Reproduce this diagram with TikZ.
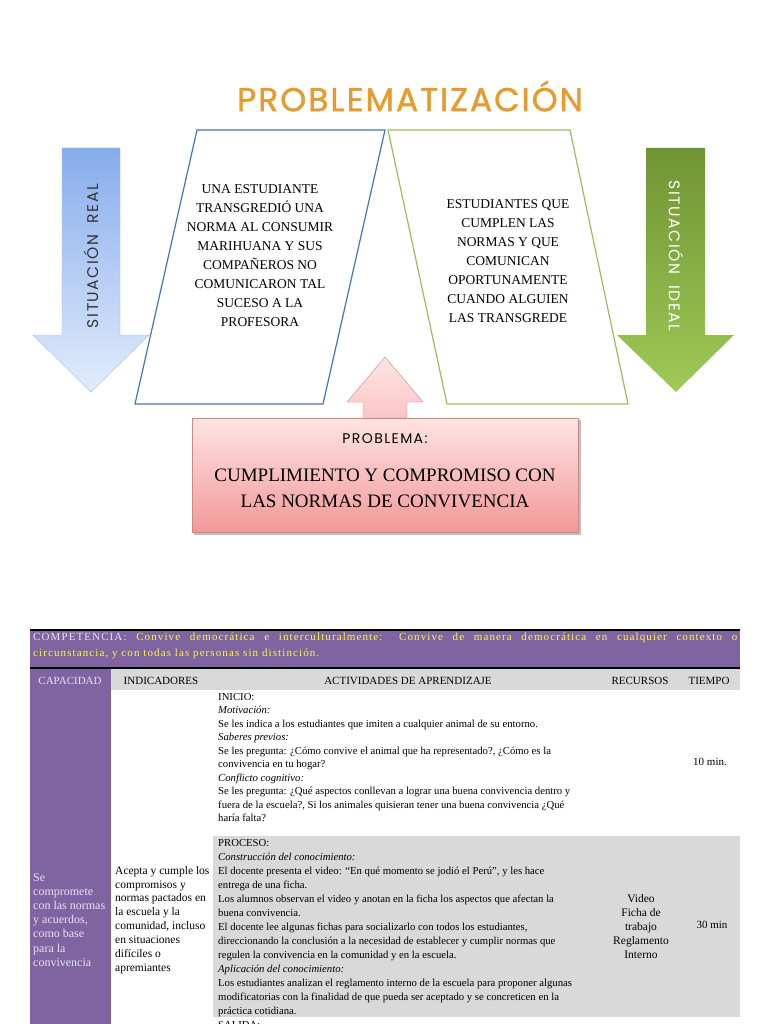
\documentclass[tikz,border=0pt]{standalone}
\usepackage{fontspec}
\setmainfont{Liberation Serif}
\newfontfamily\handfont[LetterSpace=10]{Poppins}
\newfontfamily\titlefont[LetterSpace=6,FakeBold=1.2]{Poppins}
\newfontfamily\anchafont[LetterSpace=10]{Liberation Serif}
\usetikzlibrary{positioning}
\definecolor{lila}{RGB}{128,100,162}
\definecolor{gris}{RGB}{217,217,217}
\definecolor{amarillo}{RGB}{250,245,80}
\definecolor{lilablanco}{RGB}{232,225,242}
\definecolor{azularriba}{RGB}{135,172,236}
\definecolor{azulabajo}{RGB}{226,236,252}
\definecolor{azulborde}{RGB}{165,190,228}
\definecolor{azullinea}{RGB}{70,115,185}
\definecolor{verdearriba}{RGB}{112,148,52}
\definecolor{verdeabajo}{RGB}{158,202,86}
\definecolor{verdelinea}{RGB}{155,190,90}
\definecolor{rosaarriba}{RGB}{255,228,228}
\definecolor{rosaabajo}{RGB}{242,152,152}
\definecolor{rosaborde}{RGB}{205,135,135}
\definecolor{naranja}{RGB}{232,155,45}
\tikzset{
	caja/.style={align=center, inner sep=0pt, font=\fontsize{13.5}{19}\selectfont},
	tabla/.style={align=left, inner sep=0pt, anchor=north west, font=\fontsize{10.7}{14}\selectfont},
	cabeza/.style={inner sep=0pt, anchor=base, font=\fontsize{11}{12}\selectfont}
}
\begin{document}
\begin{tikzpicture}[x=1pt,y=-1pt]
		\clip (0,0) rectangle (768,1024);
		\fill [white] (0,0) rectangle (768,1024);
		\def\punta{392}
		\def\base{335}
		\def\tope{148}
	% title
		\node [font=\titlefont\fontsize{33}{33}\selectfont, text=naranja] (titulo) at (410,96) {PROBLEMATIZACIÓN};
	% left arrow
		\shade [top color=azularriba, bottom color=azulabajo, draw=azulborde] (62,\tope) -- (120,\tope) -- (120,\base) -- (149,\base) -- (91,\punta) -- (33,\base) -- (62,\base) -- cycle;
		\node [rotate=90, text=black!80, font=\handfont\fontsize{15.5}{15.5}\selectfont] (real) at (91,256) {SITUACIÓN\ \ REAL};
	% right arrow
		\shade [top color=verdearriba, bottom color=verdeabajo] (646,\tope) -- (705,\tope) -- (705,\base) -- (734,\base) -- (676,\punta) -- (617,\base) -- (646,\base) -- cycle;
		\node [rotate=-90, text=white, font=\handfont\fontsize{15.5}{15.5}\selectfont] (ideal) at (676,256) {SITUACIÓN\ \ IDEAL};
	% boxes
		\draw [azullinea, line width=1.2pt] (197,130) -- (385,130) -- (323,404) -- (135,404) -- cycle;
		\node [caja] (realtexto) at (260,256) {UNA ESTUDIANTE\\TRANSGREDIÓ UNA\\NORMA AL CONSUMIR\\MARIHUANA Y SUS\\COMPAÑEROS NO\\COMUNICARON TAL\\SUCESO A LA\\PROFESORA};
		\draw [verdelinea, line width=1.2pt] (388,130) -- (570,130) -- (628,404) -- (447,404) -- cycle;
		\node [caja] (idealtexto) at (508,261) {ESTUDIANTES QUE\\CUMPLEN LAS\\NORMAS Y QUE\\COMUNICAN\\OPORTUNAMENTE\\CUANDO ALGUIEN\\LAS TRANSGREDE};
	% problem
		\shade [top color=rosaarriba, bottom color=rosaarriba!60!rosaabajo, draw=rosaborde] (363,418) -- (363,402) -- (347,402) -- (385,357) -- (423,402) -- (407,402) -- (407,418) -- cycle;
		\fill [black!25] (194,420) rectangle (581,535);
		\shade [top color=rosaarriba, bottom color=rosaabajo, draw=rosaborde] (192,418) rectangle (578,532);
		\node [font=\handfont\fontsize{14}{14}\selectfont, anchor=base] (problema) at (385,443) {PROBLEMA:};
		\node [align=center, anchor=base, inner sep=0pt, font=\fontsize{19}{26}\selectfont] (cumplimiento) at (385,507) {CUMPLIMIENTO Y COMPROMISO CON\\LAS NORMAS DE CONVIVENCIA};
	% table
		\fill [lila] (30,630) rectangle (740,667);
		\draw [line width=1.5pt] (30,630) -- (740,630);
		\draw [line width=1.5pt] (30,668) -- (740,668);
		\fill [lila] (30,669) rectangle (111,1024);
		\fill [gris] (111,669) rectangle (740,690);
		\fill [gris] (213,836) rectangle (740,1017);
		\node [tabla, text width=704, align=justify, font=\anchafont\fontsize{11}{16}\selectfont] (competencia) at (33,633) {{\color{lilablanco}COMPETENCIA:} {\color{amarillo}Convive democrática e interculturalmente: Convive de manera democrática en cualquier contexto o\linebreak circunstancia, y con todas las personas sin distinción.}};
		\node [cabeza, text=lilablanco] (capacidad) at (70,684) {CAPACIDAD};
		\node [cabeza] (indicadores) at (161,684) {INDICADORES};
		\node [cabeza] (actividades) at (408,684) {ACTIVIDADES DE APRENDIZAJE};
		\node [cabeza] (recursos) at (640,684) {RECURSOS};
		\node [cabeza] (tiempo) at (709,684) {TIEMPO};
	% rows
		\node [tabla, font=\fontsize{10.7}{13.5}\selectfont] (inicio) at (218,693) {INICIO:\\\textit{Motivación:}\\Se les indica a los estudiantes que imiten a cualquier animal de su entorno.\\\textit{Saberes previos:}\\Se les pregunta: ¿Cómo convive el animal que ha representado?, ¿Cómo es la\\convivencia en tu hogar?\\\textit{Conflicto cognitivo:}\\Se les pregunta: ¿Qué aspectos conllevan a lograr una buena convivencia dentro y\\fuera de la escuela?, Si los animales quisieran tener una buena convivencia ¿Qué\\haría falta?};
		\node [cabeza, font=\fontsize{11}{12}\selectfont] (diezmin) at (710,765) {10 min.};
		\node [tabla] (proceso) at (218,839) {PROCESO:\\\textit{Construcción del conocimiento:}\\El docente presenta el video: “En qué momento se jodió el Perú”, y les hace\\entrega de una ficha.\\Los alumnos observan el video y anotan en la ficha los aspectos que afectan la\\buena convivencia.\\El docente lee algunas fichas para socializarlo con todos los estudiantes,\\direccionando la conclusión a la necesidad de establecer y cumplir normas que\\regulen la convivencia en la comunidad y en la escuela.\\\textit{Aplicación del conocimiento:}\\Los estudiantes analizan el reglamento interno de la escuela para proponer algunas\\modificatorias con la finalidad de que pueda ser aceptado y se concreticen en la\\práctica cotidiana.\\SALIDA:};
		\node [tabla, anchor=north, align=center, font=\fontsize{11.5}{14}\selectfont] (materiales) at (641,894) {Video\\Ficha de\\trabajo\\Reglamento\\Interno};
		\node [cabeza, font=\fontsize{11}{12}\selectfont] (treintamin) at (712,928) {30 min};
		\node [tabla, font=\fontsize{11.5}{13.9}\selectfont] (acepta) at (115,866) {Acepta y cumple los\\compromisos y\\normas pactados en\\la escuela y la\\comunidad, incluso\\en situaciones\\difíciles o\\apremiantes};
		\node [tabla, text=lilablanco, font=\fontsize{12}{14.2}\selectfont] (secompromete) at (33,873) {Se\\compromete\\con las normas\\y acuerdos,\\como base\\para la\\convivencia};
\end{tikzpicture}
\end{document}
